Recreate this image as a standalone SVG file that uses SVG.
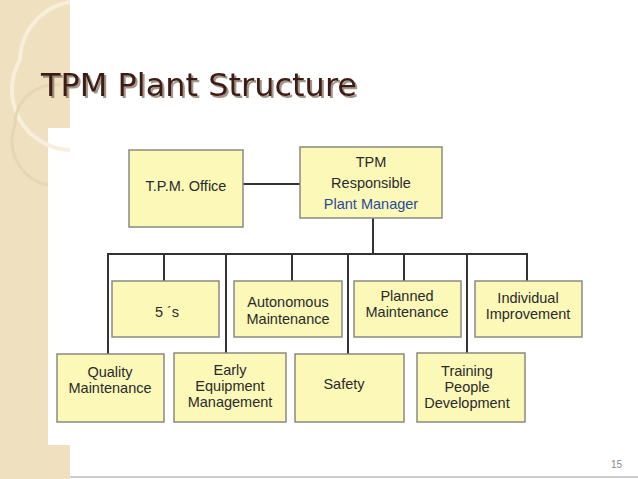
<svg xmlns="http://www.w3.org/2000/svg" width="638" height="479" viewBox="0 0 638 479">
<defs>
<filter id="sh" x="-5%" y="-20%" width="110%" height="150%"><feDropShadow dx="2" dy="2" stdDeviation="0.6" flood-color="#8a7a6a" flood-opacity="0.8"/></filter>
</defs>
<style>
.b{fill:#fbf8b8;stroke:#8a8a80;stroke-width:1.5}
.t{font-family:"Liberation Sans",Arial,sans-serif;font-size:14.5px;fill:#2a2a2a;text-anchor:middle}
.c{stroke:#333;stroke-width:2;fill:none}
</style>
<rect width="638" height="479" fill="#fff"/>
<g id="decor">
<path d="M0 0H70V128H48V445H70V479H0Z" fill="#efe0c0"/>
<path d="M70 2A60 60 0 0 0 20 60A60 60 0 0 0 70 150" fill="none" stroke="#f8eedc" stroke-width="4"/>
<path d="M60 85A40 40 0 0 0 15 125A45 45 0 0 0 48 185" fill="none" stroke="#e6d6b4" stroke-width="3"/>
<line x1="70" y1="477" x2="638" y2="477" stroke="#ccc" stroke-width="2"/>
</g>
<text x="41" y="96" font-family="'DejaVu Sans',sans-serif" font-size="32" fill="#3e1a12" textLength="316" lengthAdjust="spacingAndGlyphs" filter="url(#sh)">TPM Plant Structure</text>
<g id="connectors" class="c">
<line x1="243" y1="184" x2="300" y2="184"/>
<line x1="373" y1="218" x2="373" y2="254"/>
<line x1="107" y1="254" x2="528" y2="254"/>
<line x1="108" y1="254" x2="108" y2="354"/>
<line x1="164" y1="254" x2="164" y2="281"/>
<line x1="226" y1="254" x2="226" y2="353"/>
<line x1="292" y1="254" x2="292" y2="281"/>
<line x1="348" y1="254" x2="348" y2="354"/>
<line x1="404" y1="254" x2="404" y2="281"/>
<line x1="467" y1="254" x2="467" y2="353"/>
<line x1="527" y1="254" x2="527" y2="281"/>
</g>
<g id="office"><rect class="b" x="129" y="150" width="114" height="77"/><text class="t" x="186" y="191">T.P.M. Office</text></g>
<g id="tpm"><rect class="b" x="300" y="147" width="142" height="71"/><text class="t" x="371" y="167">TPM</text><text class="t" x="371" y="188">Responsible</text><text class="t" x="371" y="209" style="fill:#2a4a9a">Plant Manager</text></g>
<g id="fives"><rect class="b" x="112" y="281" width="107" height="56"/><text class="t" x="167" y="317">5 ´s</text></g>
<g id="am"><rect class="b" x="234" y="281" width="108" height="56"/><text class="t" x="288" y="307">Autonomous</text><text class="t" x="288" y="324">Maintenance</text></g>
<g id="pm"><rect class="b" x="354" y="281" width="107" height="56"/><text class="t" x="407" y="301">Planned</text><text class="t" x="407" y="317">Maintenance</text></g>
<g id="ii"><rect class="b" x="475" y="281" width="107" height="56"/><text class="t" x="528" y="303">Individual</text><text class="t" x="528" y="319">Improvement</text></g>
<g id="qm"><rect class="b" x="57" y="354" width="107" height="68"/><text class="t" x="110" y="377">Quality</text><text class="t" x="110" y="393">Maintenance</text></g>
<g id="eem"><rect class="b" x="174" y="353" width="112" height="69"/><text class="t" x="230" y="375">Early</text><text class="t" x="230" y="391">Equipment</text><text class="t" x="230" y="407">Management</text></g>
<g id="safety"><rect class="b" x="295" y="354" width="109" height="68"/><text class="t" x="344" y="389">Safety</text></g>
<g id="tpd"><rect class="b" x="417" y="353" width="108" height="69"/><text class="t" x="467" y="376">Training</text><text class="t" x="467" y="392">People</text><text class="t" x="467" y="408">Development</text></g>
<text x="622" y="468" font-family="'Liberation Sans',sans-serif" font-size="10" fill="#888" text-anchor="end">15</text>
</svg>
